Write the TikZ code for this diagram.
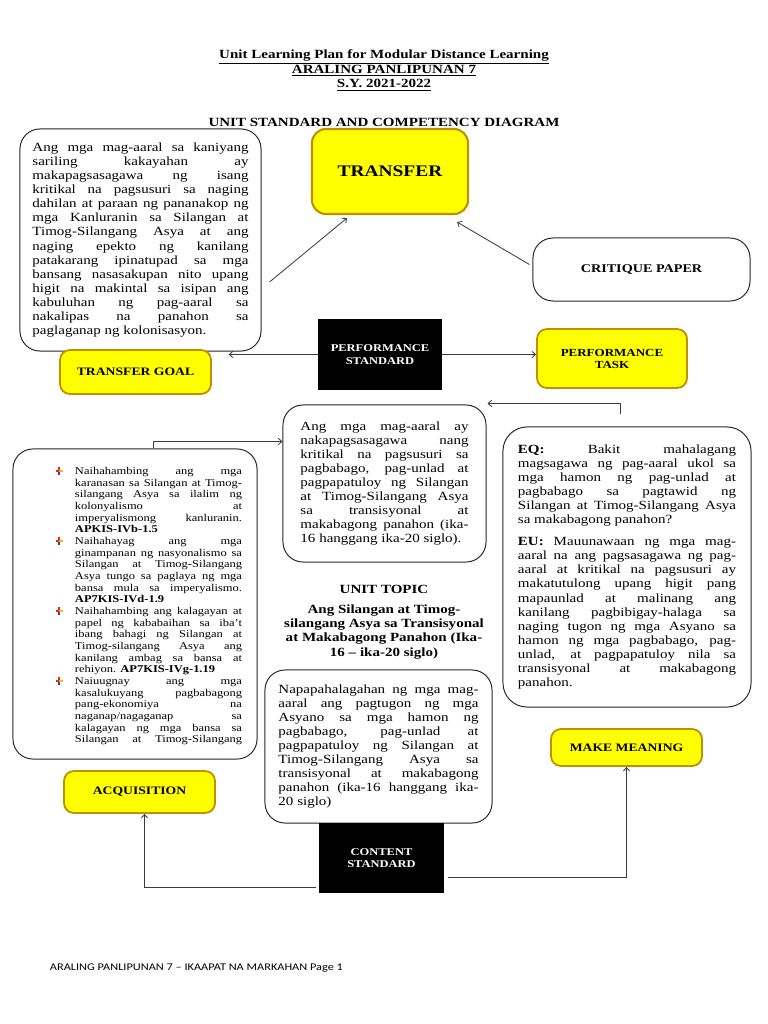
\documentclass[tikz,border=0pt]{standalone}
\usepackage{fontspec}
\setmainfont{Liberation Serif}[FakeStretch=1.2]
\newfontfamily\footfont{Carlito}[FakeStretch=1.2]
\usepackage{tikz}
\usetikzlibrary{arrows.meta, calc}
\definecolor{goldline}{RGB}{191,144,0}
\definecolor{boxyellow}{RGB}{255,255,0}
\definecolor{linegray}{RGB}{60,60,60}
\definecolor{qred}{RGB}{225,40,40}
\definecolor{qblue}{RGB}{40,60,200}
\definecolor{qyellow}{RGB}{245,185,0}
\hyphenpenalty=10000
\exhyphenpenalty=10000
\tolerance=10000
% four-colour list bullet
\newcommand{\qbullet}{\rlap{\textcolor{qred}{\rule[1.9pt]{2.5pt}{1.2pt}}}\rlap{\hspace*{2.5pt}\textcolor{qyellow}{\rule[1.9pt]{2.5pt}{1.2pt}}}\hspace*{1.8pt}\rlap{\textcolor{qred}{\rule[3.1pt]{1.4pt}{2.2pt}}}\textcolor{qblue}{\rule[-0.3pt]{1.4pt}{2.2pt}}\hspace*{1.8pt}}

\begin{document}
\begin{tikzpicture}[
    x=0.025cm, y=-0.025cm,
    whitebox/.style={draw=black!85, line width=0.7pt, rounded corners=0.5cm, align=justify, inner ysep=0pt, font=\fontsize{8.9}{10}\selectfont},
    goldbox/.style={draw=goldline, fill=boxyellow, line width=1.3pt, rounded corners=0.25cm, align=center, font=\bfseries\fontsize{8.1}{9}\selectfont},
    blackbox/.style={fill=black, text=white, align=center, font=\bfseries\fontsize{7.4}{9}\selectfont},
    arrow/.style={-{Straight Barb[length=2.5pt,width=4.5pt]}, draw=linegray, line width=0.6pt}
]
    \useasboundingbox (0,0) rectangle (768,1024);

    % Headings
    \node[align=center, font=\bfseries\fontsize{8.9}{10.3}\selectfont] (heading) at (384,70.5) {\underline{Unit Learning Plan for Modular Distance Learning}\\\underline{ARALING PANLIPUNAN 7}\\\underline{S.Y. 2021-2022}};
    \node[font=\bfseries\fontsize{8.9}{10}\selectfont] (diagtitle) at (384,122) {UNIT STANDARD AND COMPETENCY DIAGRAM};

    % Transfer part
    \node[whitebox, text width=5.4cm, inner xsep=0.3125cm, minimum height=5.55cm] (goaltext) at (140.5,240) {Ang mga mag-aaral sa kaniyang\linebreak sariling kakayahan ay\linebreak makapagsasagawa ng isang\linebreak kritikal na pagsusuri sa naging\linebreak dahilan at paraan ng pananakop ng\linebreak mga Kanluranin sa Silangan at\linebreak Timog-Silangang Asya at ang\linebreak naging epekto ng kanilang\linebreak patakarang ipinatupad sa mga\linebreak bansang nasasakupan nito upang\linebreak higit na makintal sa isipan ang\linebreak kabuluhan ng pag-aaral sa\linebreak nakalipas na panahon sa\linebreak paglaganap ng kolonisasyon.};
    \node[goldbox, rounded corners=0.35cm, line width=1.5pt, minimum width=3.9cm, minimum height=2.125cm, font=\bfseries\fontsize{11.5}{13}\selectfont] (transfer) at (390,171.5) {TRANSFER};
    \node[whitebox, align=center, minimum width=5.425cm, minimum height=1.575cm, font=\bfseries\fontsize{8.4}{10}\selectfont] (critique) at (641.5,269.5) {CRITIQUE PAPER};
    \node[blackbox, minimum width=3.1cm, minimum height=1.775cm] (perfstd) at (380,354.5) {PERFORMANCE\\STANDARD};
    \node[goldbox, minimum width=3.775cm, minimum height=1.1cm] (goal) at (135.5,372) {TRANSFER GOAL};
    \node[goldbox, minimum width=3.75cm, minimum height=1.475cm, font=\bfseries\fontsize{7.7}{8.5}\selectfont] (task) at (612,358.5) {PERFORMANCE\\TASK};

    \draw[arrow] ($(goaltext.east)+(8,42)$) -- ($(transfer.south west)+(36,3)$);
    \draw[arrow] ($(critique.west)+(-3,-5)$) -- ($(transfer.south east)+(-12,7)$);
    \draw[arrow] (perfstd.west) -- ($(perfstd.west)+(-89,0)$);
    \draw[arrow] (perfstd.east) -- (perfstd.east -| task.west);

    % Make meaning part
    \node[whitebox, text width=4.2cm, inner xsep=0.4375cm, minimum height=3.925cm] (perftext) at (384.5,483.5) {Ang mga mag-aaral ay\linebreak nakapagsasagawa nang\linebreak kritikal na pagsusuri sa\linebreak pagbabago, pag-unlad at\linebreak pagpapatuloy ng Silangan\linebreak at Timog-Silangang Asya\linebreak sa transisyonal at\linebreak makabagong panahon (ika-\linebreak 16 hanggang ika-20 siglo).};
    \node[whitebox, rounded corners=0.6cm, text width=5.45cm, inner xsep=0.375cm, minimum height=7cm] (eqeu) at (627,567) {\textbf{EQ:} Bakit mahalagang\linebreak magsagawa ng pag-aaral ukol sa\linebreak mga hamon ng pag-unlad at\linebreak pagbabago sa pagtawid ng\linebreak Silangan at Timog-Silangang Asya\linebreak sa makabagong panahon?\par\vspace{5.5pt}
    \textbf{EU:} Mauunawaan ng mga mag-\linebreak aaral na ang pagsasagawa ng pag-\linebreak aaral at kritikal na pagsusuri ay\linebreak makatutulong upang higit pang\linebreak mapaunlad at malinang ang\linebreak kanilang pagbibigay-halaga sa\linebreak naging tugon ng mga Asyano sa\linebreak hamon ng mga pagbabago, pag-\linebreak unlad, at pagpapatuloy nila sa\linebreak transisyonal at makabagong\linebreak panahon.};
    \node[goldbox, minimum width=3.775cm, minimum height=0.925cm] (meaning) at (626.5,747.5) {MAKE MEANING};

    \draw[arrow] ($(eqeu.north)+(-7,-12)$) |- ($(perftext.north east)+(1,-1)$);

    % Acquisition part
    \node[whitebox, text width=6.1cm, inner xsep=0pt, minimum height=7.75cm, font=\fontsize{7.4}{8.3}\selectfont] (comps) at (135,604) {%
    \begin{list}{\qbullet}{\setlength{\leftmargin}{1.55cm}\setlength{\rightmargin}{0.375cm}\setlength{\labelwidth}{0.3cm}\setlength{\labelsep}{0.3cm}\setlength{\itemsep}{0pt}\setlength{\parsep}{0pt}\setlength{\topsep}{0pt}\setlength{\partopsep}{0pt}}
    \item Naihahambing ang mga\linebreak karanasan sa Silangan at Timog-\linebreak silangang Asya sa ilalim ng\linebreak kolonyalismo at\linebreak imperyalismong kanluranin.\linebreak \textbf{APKIS-IVb-1.5}
    \item Naihahayag ang mga\linebreak ginampanan ng nasyonalismo sa\linebreak Silangan at Timog-Silangang\linebreak Asya tungo sa paglaya ng mga\linebreak bansa mula sa imperyalismo.\linebreak \textbf{AP7KIS-IVd-1.9}
    \item Naihahambing ang kalagayan at\linebreak papel ng kababaihan sa iba't\linebreak ibang bahagi ng Silangan at\linebreak Timog-silangang Asya ang\linebreak kanilang ambag sa bansa at\linebreak rehiyon. \textbf{AP7KIS-IVg-1.19}
    \item Naiuugnay ang mga\linebreak kasalukuyang pagbabagong\linebreak pang-ekonomiya na\linebreak naganap/nagaganap sa\linebreak kalagayan ng mga bansa sa\linebreak Silangan at Timog-Silangang\parfillskip=0pt\par
    \end{list}};
    \node[goldbox, minimum width=3.775cm, minimum height=1.05cm] (acq) at (139.5,792) {ACQUISITION};

    \draw[arrow] ($(comps.north)+(18,0)$) |- ($(perftext.west)+(0,-42)$);

    % Unit topic
    \node[font=\bfseries\fontsize{8.9}{10}\selectfont] (topichead) at (384,589) {UNIT TOPIC};
    \node[align=center, font=\bfseries\fontsize{8.9}{10}\selectfont] (topic) at (384,632) {Ang Silangan at Timog-\\silangang Asya sa Transisyonal\\at Makabagong Panahon (Ika-\\16 – ika-20 siglo)};

    % Content standard
    \node[whitebox, text width=5cm, inner xsep=0.3375cm, minimum height=3.825cm] (contenttext) at (378.5,746.5) {Napapahalagahan ng mga mag-\linebreak aaral ang pagtugon ng mga\linebreak Asyano sa mga hamon ng\linebreak pagbabago, pag-unlad at\linebreak pagpapatuloy ng Silangan at\linebreak Timog-Silangang Asya sa\linebreak transisyonal at makabagong\linebreak panahon (ika-16 hanggang ika-\linebreak 20 siglo)};
    \node[blackbox, minimum width=3.125cm, minimum height=1.75cm, font=\bfseries\fontsize{7.4}{8.5}\selectfont] (content) at (381.5,858) {CONTENT\\STANDARD};

    \draw[arrow] ($(content.south west)+(-3,-6)$) -| ($(acq.south)+(5,0)$);
    \draw[arrow] ($(content.east)+(4,19)$) -| (meaning.south);

    % Footer
    \node[anchor=west, font=\footfont\fontsize{7.3}{9}\selectfont] (footer) at (45,968) {ARALING PANLIPUNAN 7 – IKAAPAT NA MARKAHAN Page 1};
\end{tikzpicture}
\end{document}
